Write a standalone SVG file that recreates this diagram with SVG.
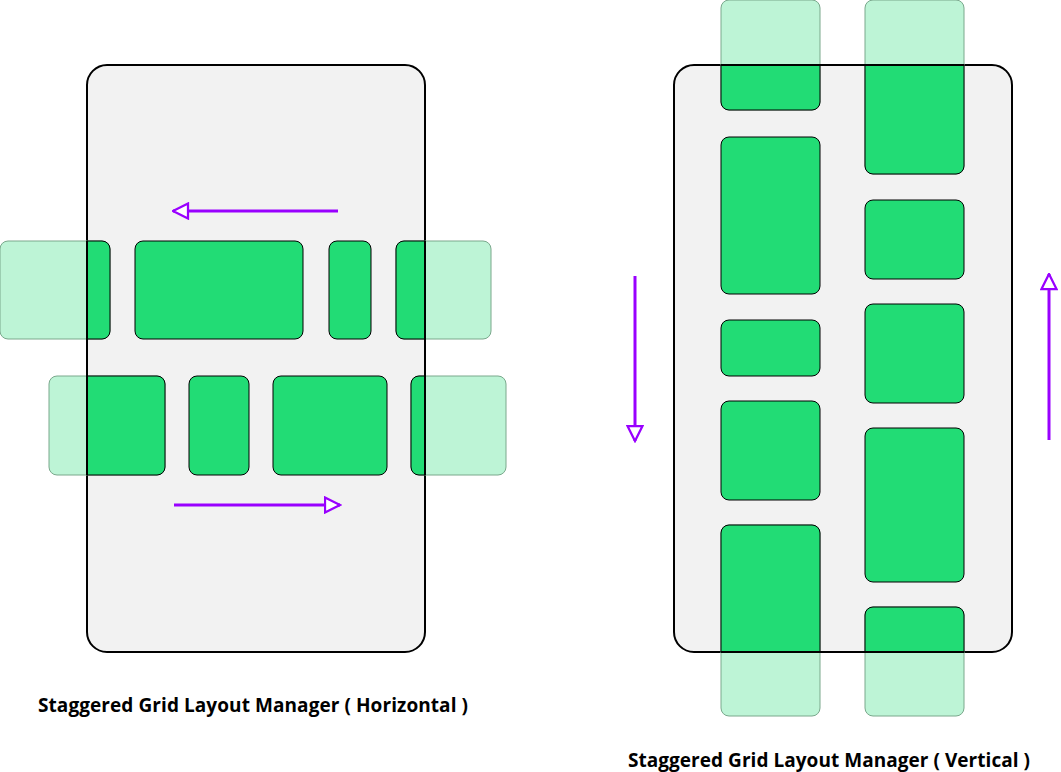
<svg xmlns="http://www.w3.org/2000/svg" width="1061" height="772" viewBox="0 0 1061 772">
<style>
.ph{fill:#f2f2f2;stroke:#000;stroke-width:2}
.lt{fill:#bdf4d6;stroke:#7aa88c;stroke-width:1}
.dk{fill:#22dc75;stroke:#000;stroke-width:1}
.ar{stroke:#9900ff;stroke-width:3;fill:none}
.t{font-family:"Open Sans",sans-serif;font-weight:bold;font-size:19px;fill:#000}
</style>
<defs>
<marker id="ah" viewBox="0 0 12 12" refX="11" refY="6" markerWidth="6" markerHeight="6" markerUnits="strokeWidth" orient="auto"><path d="M1,1 L11,6 L1,11 Z" fill="#fff" stroke="#9900ff" stroke-width="1.5"/></marker>
<clipPath id="cl"><rect x="87" y="65" width="338" height="587" rx="20"/></clipPath>
<clipPath id="cr"><rect x="674" y="65" width="338" height="587" rx="20"/></clipPath>
</defs>
<g id="left-phone">
<rect class="ph" x="87" y="65" width="338" height="587" rx="20"/>
<rect class="lt" x="0" y="241" width="110" height="98" rx="8"/>
<rect class="dk" x="0" y="241" width="110" height="98" rx="8" clip-path="url(#cl)"/>
<rect class="dk" x="135" y="241" width="168" height="98" rx="8"/>
<rect class="dk" x="329" y="241" width="42" height="98" rx="8"/>
<rect class="lt" x="396" y="241" width="95" height="98" rx="8"/>
<rect class="dk" x="396" y="241" width="95" height="98" rx="8" clip-path="url(#cl)"/>
<rect class="lt" x="49" y="376" width="116" height="99" rx="8"/>
<rect class="dk" x="49" y="376" width="116" height="99" rx="8" clip-path="url(#cl)"/>
<rect class="dk" x="189" y="376" width="60" height="99" rx="8"/>
<rect class="dk" x="273" y="376" width="114" height="99" rx="8"/>
<rect class="lt" x="411" y="376" width="95" height="99" rx="8"/>
<rect class="dk" x="411" y="376" width="95" height="99" rx="8" clip-path="url(#cl)"/>
<line x1="87" y1="241" x2="87" y2="475" stroke="#000" stroke-width="2"/>
<line x1="425" y1="241" x2="425" y2="475" stroke="#000" stroke-width="2"/>
</g>
<g id="right-phone">
<rect class="ph" x="674" y="65" width="338" height="587" rx="20"/>
<rect class="lt" x="721" y="0" width="99" height="110" rx="8"/>
<rect class="dk" x="721" y="0" width="99" height="110" rx="8" clip-path="url(#cr)"/>
<rect class="dk" x="721" y="137" width="99" height="157" rx="8"/>
<rect class="dk" x="721" y="320" width="99" height="56" rx="8"/>
<rect class="dk" x="721" y="401" width="99" height="99" rx="8"/>
<rect class="lt" x="721" y="525" width="99" height="191" rx="8"/>
<rect class="dk" x="721" y="525" width="99" height="191" rx="8" clip-path="url(#cr)"/>
<rect class="lt" x="865" y="0" width="99" height="174" rx="8"/>
<rect class="dk" x="865" y="0" width="99" height="174" rx="8" clip-path="url(#cr)"/>
<rect class="dk" x="865" y="200" width="99" height="79" rx="8"/>
<rect class="dk" x="865" y="304" width="99" height="99" rx="8"/>
<rect class="dk" x="865" y="428" width="99" height="154" rx="8"/>
<rect class="lt" x="865" y="607" width="99" height="109" rx="8"/>
<rect class="dk" x="865" y="607" width="99" height="109" rx="8" clip-path="url(#cr)"/>
<line x1="721" y1="65" x2="964" y2="65" stroke="#000" stroke-width="2"/>
<line x1="721" y1="652" x2="964" y2="652" stroke="#000" stroke-width="2"/>
</g>
<g id="connectors">
<line class="ar" x1="338" y1="211" x2="173" y2="211" marker-end="url(#ah)"/>
<line class="ar" x1="174" y1="505" x2="340" y2="505" marker-end="url(#ah)"/>
<line class="ar" x1="635" y1="276" x2="635" y2="441" marker-end="url(#ah)"/>
<line class="ar" x1="1049" y1="440" x2="1049" y2="274" marker-end="url(#ah)"/>
</g>
<text class="t" x="38" y="712" textLength="430">Staggered Grid Layout Manager ( Horizontal )</text>
<text class="t" x="628" y="767" textLength="402">Staggered Grid Layout Manager ( Vertical )</text>
</svg>
